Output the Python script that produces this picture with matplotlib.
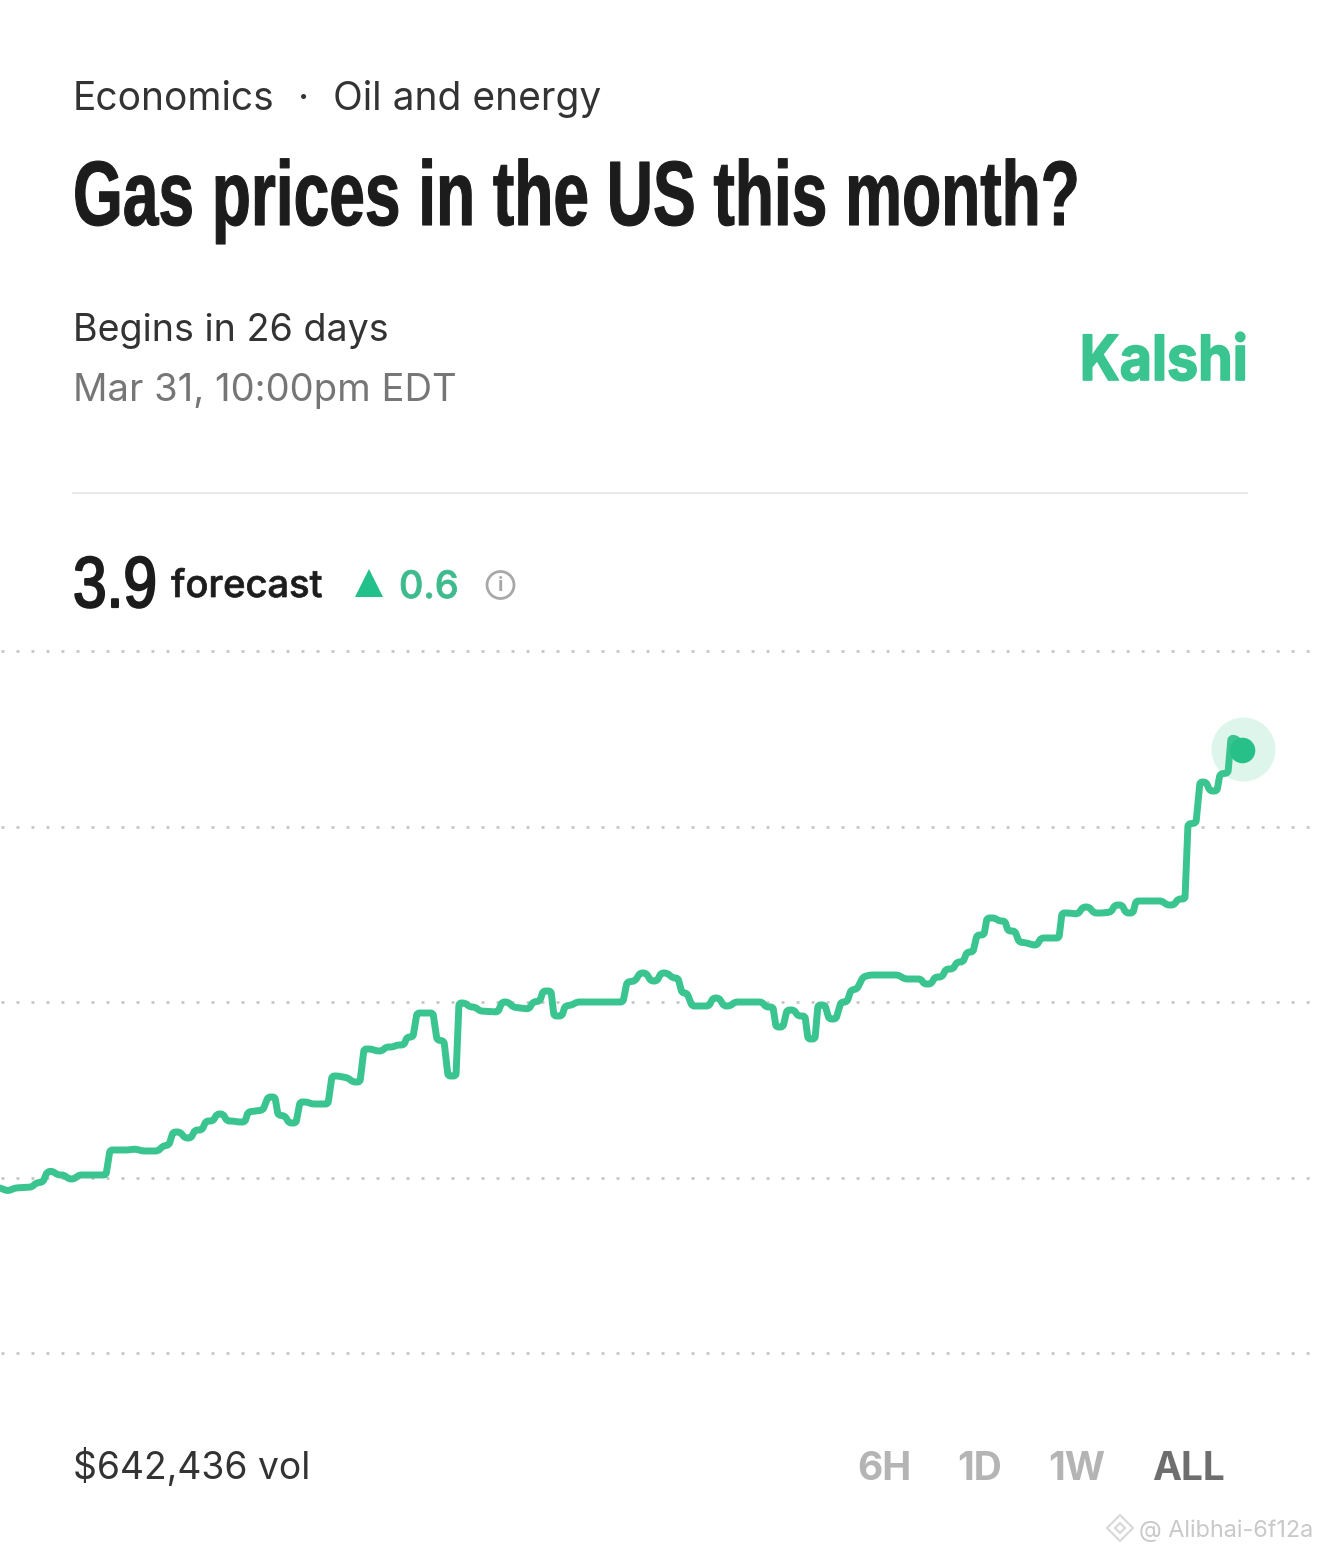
import matplotlib
matplotlib.use('Agg')
import matplotlib.pyplot as plt
import matplotlib.patheffects as pe
import numpy as np
from matplotlib.path import Path
from matplotlib.patches import Circle, Polygon
from matplotlib.transforms import Affine2D, IdentityTransform

# forecast line (x = time position, value = height above the bottom gridline)
times = [0, 8, 15, 32, 36, 43, 47, 52, 58, 64, 69, 74, 79, 106, 110, 128, 135, 143, 158, 163,
         169, 173, 180, 185, 191, 195, 202, 206, 213, 217, 223, 227, 233, 238, 245, 248, 263, 268, 275, 278,
         285, 289, 296, 300, 307, 312, 328, 332, 338, 348, 353, 360, 364, 371, 377, 382, 386, 393, 397, 404,
         407, 413, 417, 433, 437, 444, 448, 456, 459, 465, 470, 475, 480, 498, 502, 508, 513, 520, 529, 533,
         540, 543, 551, 554, 562, 565, 572, 577, 623, 627, 635, 640, 646, 651, 657, 661, 667, 673, 678, 682,
         687, 692, 709, 713, 719, 724, 730, 735, 762, 766, 773, 776, 783, 787, 794, 798, 805, 808, 815, 818,
         825, 829, 836, 841, 847, 851, 857, 863, 870, 898, 905, 921, 924, 931, 935, 942, 946, 953, 957, 963,
         967, 973, 977, 984, 987, 995, 999, 1005, 1008, 1015, 1019, 1027, 1033, 1037, 1041, 1059, 1062, 1068, 1078, 1083,
         1089, 1094, 1102, 1111, 1115, 1122, 1126, 1133, 1136, 1162, 1167, 1174, 1178, 1185, 1188, 1196, 1200, 1206, 1210, 1217,
         1220, 1228, 1231, 1237, 1242]
values = [165, 162, 165, 166, 170, 171, 181, 182, 178, 178, 174, 174, 178, 178, 203, 203, 204, 202, 202, 207,
          208, 221, 221, 215, 215, 223, 223, 232, 232, 239, 239, 232, 232, 231, 231, 241, 243, 256, 256, 238,
          237, 230, 230, 251, 251, 249, 249, 277, 277, 275, 271, 271, 304, 304, 302, 302, 306, 306, 308, 308,
          316, 316, 340, 340, 313, 312, 277, 277, 350, 350, 346, 346, 342, 341, 351, 351, 346, 345, 344, 351,
          352, 362, 362, 337, 337, 347, 348, 351, 351, 371, 372, 380, 380, 372, 372, 380, 380, 375, 375, 360,
          360, 347, 347, 355, 355, 347, 347, 351, 351, 346, 346, 326, 326, 343, 343, 337, 337, 314, 314, 348,
          348, 334, 334, 351, 351, 363, 364, 376, 378, 378, 374, 374, 369, 369, 376, 376, 384, 384, 391, 391,
          401, 401, 418, 418, 435, 435, 432, 432, 422, 422, 411, 410, 408, 408, 415, 415, 440, 440, 439, 446,
          446, 440, 440, 441, 448, 448, 440, 440, 452, 452, 448, 448, 454, 454, 529, 530, 571, 571, 562, 562,
          579, 580, 615, 614, 603]
grid_levels = [0, 175.5, 351, 526.5, 702]
ranges = ['6H', '1D', '1W', 'ALL']
range_x = [884, 980, 1077, 1188]
range_colors = ['#b4b4b4', '#b4b4b4', '#b4b4b4', '#6e6e6e']

GREEN = '#3ac48f'
DARK = '#1c1c1c'
GREY = '#767676'
HEAD = ['Liberation Sans', 'DejaVu Sans']
BODY = ['Inter', 'DejaVu Sans']


class Stretched(pe.AbstractPathEffect):
    # no condensed font here, so draw the text taller about its baseline, with a little stroke
    def __init__(self, anchor, sy, stroke, color):
        super().__init__()
        self.anchor, self.sy, self.stroke, self.color = anchor, sy, stroke, color

    def draw_path(self, renderer, gc, tpath, affine, rgbFace=None):
        x0, y0 = self.anchor
        shape = Affine2D().translate(-x0, -y0).scale(1, self.sy).translate(x0, y0)
        gc0 = renderer.new_gc()
        gc0.copy_properties(gc)
        gc0.set_foreground(self.color)
        gc0.set_linewidth(self.stroke)
        renderer.draw_path(gc0, tpath, affine + shape, rgbFace)
        gc0.restore()


class RoundedCorners(pe.AbstractPathEffect):
    # the chart line has small rounded corners
    def __init__(self, radius):
        super().__init__()
        self.radius = radius

    def draw_path(self, renderer, gc, tpath, affine, rgbFace=None):
        pts = affine.transform(tpath.vertices)
        verts, codes = [pts[0]], [Path.MOVETO]
        for a, b, c in zip(pts[:-2], pts[1:-1], pts[2:]):
            d1, d2 = b - a, c - b
            n1, n2 = np.hypot(*d1), np.hypot(*d2)
            if n1 == 0 or n2 == 0:
                continue
            r1, r2 = min(self.radius, n1 / 2), min(self.radius, n2 / 2)
            verts += [b - d1 / n1 * r1, b, b + d2 / n2 * r2]
            codes += [Path.LINETO, Path.CURVE3, Path.CURVE3]
        verts.append(pts[-1])
        codes.append(Path.LINETO)
        renderer.draw_path(gc, Path(verts, codes), IdentityTransform(), None)


fig = plt.figure(figsize=(13.2, 15.54), dpi=100, facecolor='white')

# page layer in pixel coordinates, used for the text around the chart
page = fig.add_axes([0, 0, 1, 1])
page.set_xlim(0, 1320)
page.set_ylim(1554, 0)
page.axis('off')


def label(x, y, s, size, color=DARK, family=BODY, weight='normal', ha='left', sy=None, stroke=0):
    t = page.text(x, y, s, fontsize=size, color=color, family=family, weight=weight,
                  ha=ha, va='baseline')
    if sy is not None:
        t.set_path_effects([Stretched((x, 1554 - y), sy, stroke, color)])
    return t


label(73, 110, 'Economics', 28, color='#333333')
label(298, 110, '·', 28, color='#333333')
label(333, 110, 'Oil and energy', 28, color='#333333')
label(73, 225, 'Gas prices in the US this month?', 46.1, family=HEAD, weight='bold', sy=1.43, stroke=0.8)
label(73, 341, 'Begins in 26 days', 27.1, color='#333333')
label(73, 401, 'Mar 31, 10:00pm EDT', 27.5, color=GREY)
label(1248, 380, 'Kalshi', 40, color=GREEN, weight='bold', ha='right', sy=1.12, stroke=1.2)
page.plot([72, 1248], [493, 493], color='#e9e9e9', lw=1.5, solid_capstyle='butt')

label(73, 607, '3.9', 43.5, family=HEAD, sy=1.19, stroke=1.6)
label(171, 597, 'forecast', 27.4, weight='medium', sy=1.0, stroke=0.5)
page.add_patch(Polygon([[355, 597], [369, 569], [383, 597]], closed=True, color='#22c08a', lw=0))
label(399, 598, '0.6', 27.2, color='#3dbb8d', weight='medium', sy=1.0, stroke=0.6)
page.add_patch(Circle((500.5, 585), 13.5, fill=False, ec='#a8a8a8', lw=2))
page.text(500.5, 586, 'i', fontsize=14, color='#a8a8a8', family=BODY, weight='bold', ha='center', va='center')

label(73, 1479, '$642,436 vol', 26.8, color='#333333')
for name, x, c in zip(ranges, range_x, range_colors):
    label(x, 1480, name, 28, color=c, weight='bold', ha='center')

# watermark
page.add_patch(Polygon([[1120, 1515], [1133, 1528], [1120, 1541], [1107, 1528]], closed=True,
                       fill=False, ec='#d8d8d8', lw=1.5))
page.add_patch(Polygon([[1120, 1523], [1125, 1528], [1120, 1533], [1115, 1528]], closed=True,
                       fill=False, ec='#d8d8d8', lw=1.5))
label(1139, 1537, '@ Alibhai-6f12a', 16.9, color='#c9c9c9')

# chart layer
ax = fig.add_axes([0, (1554 - 1353) / 1554, 1, 702 / 1554])
ax.patch.set_alpha(0)
ax.set_xlim(0, 1320)
ax.set_ylim(0, 702)
ax.axis('off')

for g in grid_levels:
    ax.plot([1, 1310], [g, g], color='#c4c4c4', lw=1.9, linestyle=(0, (1.1, 4.585)), clip_on=False)

ax.plot(times, values, color=GREEN, lw=5, solid_joinstyle='round', solid_capstyle='round', zorder=3,
        path_effects=[RoundedCorners(2.5)])
ax.scatter(times[-1] + 1, values[-1] + 1, s=2120, color='#35c48d', alpha=0.16, lw=0, zorder=2)
ax.scatter(times[-1], values[-1], s=340, color='#27c088', lw=0, zorder=4)

fig.savefig('out.png', dpi=100)
